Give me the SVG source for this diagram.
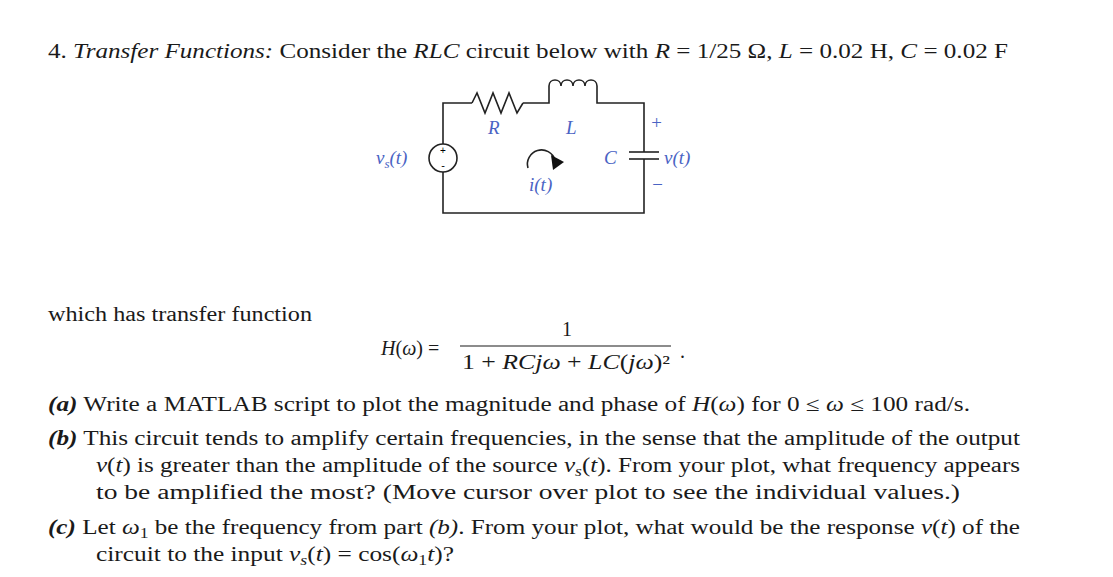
<svg xmlns="http://www.w3.org/2000/svg" width="1113" height="577" viewBox="0 0 1113 577">
<style>
.t{font-family:"Liberation Serif",serif;font-size:20px;fill:#1a1a1a}
.c{font-family:"Liberation Serif",serif;font-size:19px;fill:#4a63c4;font-style:italic}
.w{fill:none;stroke:#222;stroke-width:1.6}
</style>
<rect width="1113" height="577" fill="#fff"/>
<g id="text">
<text class="t" x="48" y="58" textLength="960" lengthAdjust="spacingAndGlyphs">4. <tspan font-style="italic">Transfer Functions:</tspan> Consider the <tspan font-style="italic">RLC</tspan> circuit below with <tspan font-style="italic">R</tspan> = 1/25 Ω, <tspan font-style="italic">L</tspan> = 0.02 H, <tspan font-style="italic">C</tspan> = 0.02 F</text>
<text class="t" x="48" y="321" textLength="264" lengthAdjust="spacingAndGlyphs">which has transfer function</text>
<text class="t" x="381" y="355"><tspan font-style="italic">H</tspan>(<tspan font-style="italic">ω</tspan>) =</text>
<text class="t" x="562" y="336">1</text>
<line x1="460" y1="346" x2="671" y2="346" stroke="#1a1a1a" stroke-width="1.2"/>
<text class="t" x="462" y="369" textLength="208" lengthAdjust="spacingAndGlyphs">1 + <tspan font-style="italic">RCjω</tspan> + <tspan font-style="italic">LC</tspan>(<tspan font-style="italic">jω</tspan>)²</text>
<text class="t" x="680" y="358">.</text>
<text class="t" x="48" y="411" textLength="922" lengthAdjust="spacingAndGlyphs"><tspan font-weight="bold" font-style="italic">(a)</tspan> Write a MATLAB script to plot the magnitude and phase of <tspan font-style="italic">H</tspan>(<tspan font-style="italic">ω</tspan>) for 0 ≤ <tspan font-style="italic">ω</tspan> ≤ 100 rad/s.</text>
<text class="t" x="48" y="445" textLength="972" lengthAdjust="spacingAndGlyphs"><tspan font-weight="bold" font-style="italic">(b)</tspan> This circuit tends to amplify certain frequencies, in the sense that the amplitude of the output</text>
<text class="t" x="96" y="472" textLength="924" lengthAdjust="spacingAndGlyphs"><tspan font-style="italic">v</tspan>(<tspan font-style="italic">t</tspan>) is greater than the amplitude of the source <tspan font-style="italic">v<tspan font-size="14" dy="4">s</tspan></tspan><tspan dy="-4">(</tspan><tspan font-style="italic">t</tspan>). From your plot, what frequency appears</text>
<text class="t" x="96" y="499" textLength="864" lengthAdjust="spacingAndGlyphs">to be amplified the most? (Move cursor over plot to see the individual values.)</text>
<text class="t" x="48" y="534" textLength="972" lengthAdjust="spacingAndGlyphs"><tspan font-weight="bold" font-style="italic">(c)</tspan> Let <tspan font-style="italic">ω</tspan><tspan font-size="14" dy="4">1</tspan><tspan dy="-4"> be the frequency from part </tspan><tspan font-style="italic">(b)</tspan>. From your plot, what would be the response <tspan font-style="italic">v</tspan>(<tspan font-style="italic">t</tspan>) of the</text>
<text class="t" x="96" y="561" textLength="358" lengthAdjust="spacingAndGlyphs">circuit to the input <tspan font-style="italic">v<tspan font-size="14" dy="4">s</tspan></tspan><tspan dy="-4">(</tspan><tspan font-style="italic">t</tspan>) = cos(<tspan font-style="italic">ω</tspan><tspan font-size="14" dy="4">1</tspan><tspan dy="-4"><tspan font-style="italic">t</tspan>)?</tspan></text>
</g>
<g id="connectors">
<path class="w" d="M443,144 V103 H472 M523,103 H549 V86 M597,86 V103 H644 V152 M644,159 V213 H443 V172"/>
<polyline class="w" points="472,103 477,93 485,113 493,93 501,113 509,93 517,113 523,103"/>
<path class="w" d="M549,86 C549,78 561,78 561,86 C561,78 573,78 573,86 C573,78 585,78 585,86 C585,78 597,78 597,86"/>
</g>
<g id="source"><circle class="w" cx="443" cy="158" r="14"/>
<text x="443" y="154" font-family="Liberation Sans,sans-serif" font-size="10" text-anchor="middle">+</text>
<text x="443" y="169" font-family="Liberation Sans,sans-serif" font-size="11" text-anchor="middle">-</text>
<text class="c" x="376" y="164">v<tspan font-size="13" dy="4">s</tspan><tspan dy="-4">(t)</tspan></text></g>
<g id="resistor"><text class="c" x="488" y="134">R</text></g>
<g id="inductor"><text class="c" x="566" y="134">L</text></g>
<g id="capacitor">
<line class="w" x1="629" y1="152" x2="659" y2="152"/><line class="w" x1="629" y1="159" x2="659" y2="159"/>
<text class="c" x="604" y="164">C</text><text class="c" x="664" y="164">v(t)</text>
<text class="c" x="650" y="129" font-style="normal">+</text><text class="c" x="651" y="191" font-style="normal">−</text></g>
<g id="current">
<path class="w" d="M528,168 A14,14 0 1 1 555,160"/>
<polygon points="551,155 564,162 553,170" fill="#111"/>
<text class="c" x="529" y="191">i(t)</text></g>
</svg>
